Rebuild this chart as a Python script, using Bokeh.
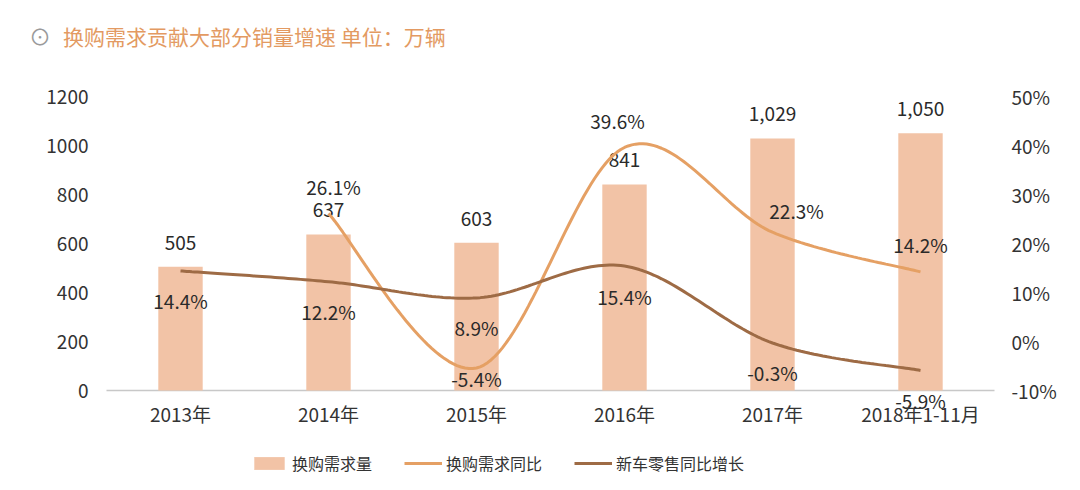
import numpy as np
from bokeh.plotting import figure
from bokeh.models import (Range1d, LinearAxis, FixedTicker, PrintfTickFormatter,
                          CustomJSTickFormatter, ColumnDataSource, Legend, LegendItem)
from bokeh.core.properties import value
from bokeh.embed import file_html
from bokeh.resources import INLINE

# ---- data ----
categories = ["2013年", "2014年", "2015年", "2016年", "2017年", "2018年1-11月"]
replace_volume = [505, 637, 603, 841, 1029, 1050]            # 换购需求量 (万辆)
replace_yoy = [None, 26.1, -5.4, 39.6, 22.3, 14.2]           # 换购需求同比 (%)
retail_yoy = [14.4, 12.2, 8.9, 15.4, -0.3, -5.9]             # 新车零售同比增长 (%)
left_ticks = [0, 200, 400, 600, 800, 1000, 1200]
right_ticks = [-10, 0, 10, 20, 30, 40, 50]

title_text = "换购需求贡献大部分销量增速 单位：万辆"
series_names = ["换购需求量", "换购需求同比", "新车零售同比增长"]

# ---- styles / layout (pixels) ----
FONT = "Noto Sans CJK SC"
BAR_COLOR = "#F2C3A6"
ORANGE = "#E5A064"
BROWN = "#9E6B45"
TEXT = "#2a2a2a"
AX = "#333333"
W, H = 1064, 484                 # canvas
PLOT_L, PLOT_R = 106, 994        # left/right edge of category area
PLOT_T, PLOT_B = 96, 390         # pixel rows of the axis tops / zero line

# label offsets (pixels) — styling only
yoy_dx = [0, 5, 0, -7, 24, 0]
yoy_dy = [0, -27, 11, -27, -22, -27]


def smooth(xs, ys, n=40):
    """Excel-like smoothed curve (Bezier with Catmull-Rom control points)."""
    pts = list(zip(xs, ys))
    out_x, out_y = [], []
    for i in range(len(pts) - 1):
        p0 = pts[i - 1] if i > 0 else pts[i]
        p1 = pts[i]
        p2 = pts[i + 1]
        p3 = pts[i + 2] if i + 2 < len(pts) else pts[i + 1]
        b1 = (p1[0] + (p2[0] - p0[0]) / 6, p1[1] + (p2[1] - p0[1]) / 6)
        b2 = (p2[0] - (p3[0] - p1[0]) / 6, p2[1] - (p3[1] - p1[1]) / 6)
        t = np.linspace(0, 1, n, endpoint=(i == len(pts) - 2))
        for a, b, c, d, store in ((p1[0], b1[0], b2[0], p2[0], out_x), (p1[1], b1[1], b2[1], p2[1], out_y)):
            store.extend(((1 - t) ** 3) * a + 3 * ((1 - t) ** 2) * t * b + 3 * (1 - t) * t * t * c + t ** 3 * d)
    return out_x, out_y


n = len(categories)
ux = n / (PLOT_R - PLOT_L)                                   # category units per pixel
uy = (left_ticks[-1] - left_ticks[0]) / (PLOT_B - PLOT_T)    # volume units per pixel
up = (right_ticks[-1] - right_ticks[0]) / (PLOT_B - PLOT_T)  # percent units per pixel

x_range = Range1d(-PLOT_L * ux, n + (W - PLOT_R) * ux)
y_range = Range1d(left_ticks[0] - (H - PLOT_B) * uy, left_ticks[-1] + PLOT_T * uy)
pct_range = Range1d(right_ticks[0] - (H - PLOT_B) * up, right_ticks[-1] + PLOT_T * up)

p = figure(x_range=x_range, y_range=y_range, frame_width=W, frame_height=H,
           output_backend="svg", toolbar_location=None, min_border=0)
p.extra_y_ranges = {"pct": pct_range}
p.outline_line_color = None
p.grid.visible = False
p.background_fill_color = "white"
p.border_fill_color = "white"

xc = [i + 0.5 for i in range(n)]   # category centres

# baseline of the category axis
p.segment(x0=[0], x1=[n], y0=[0], y1=[0], line_color="#c8c8c8", line_width=1.5)

# bars
src = ColumnDataSource(dict(x=xc, v=replace_volume, lab=[f"{v:,}" for v in replace_volume]))
bars = p.vbar(x="x", top="v", width=0.3, source=src, fill_color=BAR_COLOR, line_color=None)
p.text(x="x", y="v", text="lab", source=src, text_align="center", text_baseline="middle",
       y_offset=-24, text_font=value(FONT), text_font_size="19px", text_color=TEXT)

# orange line: 换购需求同比
ox = [x for x, v in zip(xc, replace_yoy) if v is not None]
oy = [v for v in replace_yoy if v is not None]
sx, sy = smooth(ox, oy)
l_orange = p.line(sx, sy, y_range_name="pct", line_color=ORANGE, line_width=3)

# brown line: 新车零售同比增长
bx, by = smooth(xc, retail_yoy)
l_brown = p.line(bx, by, y_range_name="pct", line_color=BROWN, line_width=3)

# labels for orange line
osrc = ColumnDataSource(dict(x=ox, y=oy, lab=[f"{v:.1f}%" for v in oy],
                             dx=[d for d, v in zip(yoy_dx, replace_yoy) if v is not None],
                             dy=[d for d, v in zip(yoy_dy, replace_yoy) if v is not None]))
p.text(x="x", y="y", text="lab", source=osrc, y_range_name="pct", x_offset="dx", y_offset="dy",
       text_align="center", text_baseline="middle", text_font=value(FONT),
       text_font_size="19px", text_color=TEXT)

# labels for brown line
bsrc = ColumnDataSource(dict(x=xc, y=retail_yoy, lab=[f"{v:.1f}%" for v in retail_yoy]))
p.text(x="x", y="y", text="lab", source=bsrc, y_range_name="pct", y_offset=30,
       text_align="center", text_baseline="middle", text_font=value(FONT),
       text_font_size="19px", text_color=TEXT)

# left axis (volume) pinned at the left edge of the category area
ya = p.yaxis[0]
ya.fixed_location = 0
ya.ticker = FixedTicker(ticks=left_ticks)
ya.axis_line_color = None
ya.major_tick_line_color = None
ya.minor_tick_line_color = None
ya.major_label_standoff = 12
ya.major_label_text_font = FONT
ya.major_label_text_font_size = "19px"
ya.major_label_text_color = AX

# right axis (percent) pinned at the right edge of the category area
ra = LinearAxis(y_range_name="pct", ticker=FixedTicker(ticks=right_ticks),
                formatter=PrintfTickFormatter(format="%d%%"), fixed_location=n)
ra.axis_line_color = None
ra.major_tick_line_color = None
ra.minor_tick_line_color = None
ra.major_label_standoff = 11
ra.major_label_text_font = FONT
ra.major_label_text_font_size = "19px"
ra.major_label_text_color = AX
p.add_layout(ra, "right")

# category axis pinned at zero
xa = p.xaxis[0]
xa.fixed_location = 0
xa.ticker = FixedTicker(ticks=xc)
xa.formatter = CustomJSTickFormatter(args=dict(cats=categories),
                                     code="return cats[Math.floor(tick)];")
xa.axis_line_color = None
xa.major_tick_line_color = None
xa.minor_tick_line_color = None
xa.major_label_standoff = 3
xa.major_label_text_font = FONT
xa.major_label_text_font_size = "19px"
xa.major_label_text_color = AX

# series legend, below the category labels
legend = Legend(items=[LegendItem(label=series_names[0], renderers=[bars]),
                       LegendItem(label=series_names[1], renderers=[l_orange]),
                       LegendItem(label=series_names[2], renderers=[l_brown])],
                orientation="horizontal", location=(250, 9),
                label_text_font=FONT, label_text_font_size="16px", label_text_color=AX,
                glyph_width=38, glyph_height=16, spacing=32, label_standoff=4,
                border_line_color=None, background_fill_alpha=0, margin=0, padding=0)
p.add_layout(legend, "center")

# chart heading: orange text, with a grey bullet drawn as its own label
blank = p.scatter(x=[], y=[], marker="circle", size=1, line_color=None, fill_color=None)
heading = Legend(items=[LegendItem(label=title_text, renderers=[blank])],
                 orientation="horizontal", location=(30, 433),
                 label_text_font=FONT, label_text_font_size="21px", label_text_color="#E39A62",
                 glyph_width=20, glyph_height=24, label_standoff=13,
                 border_line_color=None, background_fill_alpha=0, margin=0, padding=0)
p.add_layout(heading, "center")
bullet = Legend(items=[LegendItem(label="⊙", renderers=[blank])],
                orientation="horizontal", location=(29, 433),
                label_text_font=FONT, label_text_font_size="22px", label_text_color="#9a9a9a",
                glyph_width=0, glyph_height=24, label_standoff=0,
                border_line_color=None, background_fill_alpha=0, margin=0, padding=0)
p.add_layout(bullet, "center")

open("out.html", "w").write(file_html(p, INLINE))
